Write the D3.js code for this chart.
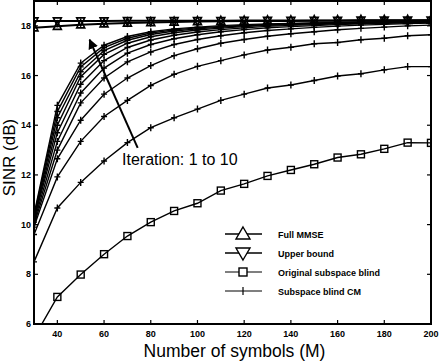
<!DOCTYPE html>
<html>
<head>
<meta charset="utf-8">
<script src="https://d3js.org/d3.v7.min.js"></script>
<style>
  body { margin: 0; background: #fff; }
  svg { display: block; font-family: Arial, "Liberation Sans", sans-serif; }
  .tick-label { font-size: 9px; font-weight: bold; }
</style>
</head>
<body>
<div id="chart"></div>
<script>
// Number of symbols M
const symbols = [30, 40, 50, 60, 70, 80, 90, 100, 110, 120, 130, 140, 150, 160, 170, 180, 190, 200];

// Reference curves
const fullMmse   = [17.92, 17.98, 18.04, 18.08, 18.11, 18.13, 18.15, 18.17, 18.18, 18.19, 18.2, 18.2, 18.21, 18.21, 18.22, 18.22, 18.22, 18.23];
const upperBound = [18.2, 18.2, 18.2, 18.2, 18.21, 18.21, 18.21, 18.21, 18.21, 18.22, 18.22, 18.22, 18.22, 18.22, 18.23, 18.23, 18.23, 18.23];
const originalSubspace = [5.45, 7.09, 7.99, 8.81, 9.54, 10.1, 10.55, 10.86, 11.37, 11.64, 11.96, 12.2, 12.43, 12.7, 12.83, 13.05, 13.3, 13.29];

// Subspace blind CM, iterations 1 to 10
const cmIter1  = [8.5, 10.67, 11.7, 12.56, 13.3, 13.9, 14.3, 14.65, 15.0, 15.25, 15.5, 15.62, 15.8, 15.98, 16.07, 16.23, 16.36, 16.36];
const cmIter2  = [9.6, 11.92, 13.35, 14.35, 15.0, 15.6, 16.05, 16.37, 16.6, 16.83, 17.03, 17.14, 17.28, 17.33, 17.44, 17.5, 17.6, 17.64];
const cmIter3  = [9.9, 12.65, 14.2, 15.25, 15.9, 16.4, 16.8, 17.08, 17.3, 17.45, 17.58, 17.68, 17.76, 17.84, 17.9, 17.95, 18.0, 18.03];
const cmIter4  = [10.0, 13.0, 14.9, 15.9, 16.55, 16.95, 17.25, 17.45, 17.6, 17.72, 17.81, 17.88, 17.94, 17.99, 18.03, 18.06, 18.09, 18.11];
const cmIter5  = [10.1, 13.35, 15.3, 16.3, 16.9, 17.25, 17.48, 17.64, 17.76, 17.85, 17.92, 17.97, 18.01, 18.05, 18.08, 18.1, 18.12, 18.14];
const cmIter6  = [10.2, 13.7, 15.65, 16.6, 17.13, 17.43, 17.62, 17.75, 17.85, 17.92, 17.98, 18.02, 18.05, 18.08, 18.1, 18.12, 18.14, 18.16];
const cmIter7  = [10.25, 14.0, 15.95, 16.85, 17.3, 17.56, 17.72, 17.83, 17.91, 17.97, 18.02, 18.05, 18.08, 18.1, 18.12, 18.14, 18.16, 18.17];
const cmIter8  = [10.3, 14.3, 16.15, 17.0, 17.42, 17.65, 17.79, 17.88, 17.95, 18.0, 18.04, 18.07, 18.1, 18.12, 18.14, 18.15, 18.17, 18.18];
const cmIter9  = [10.35, 14.55, 16.35, 17.12, 17.5, 17.71, 17.84, 17.92, 17.98, 18.02, 18.06, 18.09, 18.11, 18.13, 18.15, 18.16, 18.18, 18.19];
const cmIter10 = [10.4, 14.8, 16.5, 17.22, 17.57, 17.76, 17.88, 17.95, 18.01, 18.05, 18.08, 18.1, 18.12, 18.14, 18.16, 18.17, 18.19, 18.2];
const cmIterations = [cmIter1, cmIter2, cmIter3, cmIter4, cmIter5, cmIter6, cmIter7, cmIter8, cmIter9, cmIter10];

// Axis ticks
const xTicks = [40, 60, 80, 100, 120, 140, 160, 180, 200];
const yTicks = [6, 8, 10, 12, 14, 16, 18];

const legendLabels = ["Full MMSE", "Upper bound", "Original subspace blind", "Subspace blind CM"];

// Size of the page and the plot box
const width = 442, height = 362;
const margin = { top: 1, right: 10, bottom: 38, left: 34 };

const svg = d3.select("#chart").append("svg")
    .attr("width", width)
    .attr("height", height);

const x = d3.scaleLinear().domain([30, 200]).range([margin.left, width - 11]);
const y = d3.scaleLinear().domain([6, 19]).range([height - margin.bottom, margin.top]);

svg.append("clipPath").attr("id", "plot-clip")
    .append("rect")
    .attr("x", x(30)).attr("y", y(19))
    .attr("width", x(200) - x(30)).attr("height", y(6) - y(19));

const plot = svg.append("g").attr("clip-path", "url(#plot-clip)");

const line = d3.line()
    .x((d, i) => x(symbols[i]))
    .y(d => y(d));

// Marker shapes
function drawMarkers(g, values, kind) {
    const pts = values.map((v, i) => [x(symbols[i]), y(v)]);
    pts.forEach(([px, py]) => {
        if (kind === "up") {
            g.append("path")
                .attr("d", `M${px},${py - 5}L${px + 4},${py + 3}L${px - 4},${py + 3}Z`)
                .attr("fill", "none").attr("stroke", "#000").attr("stroke-width", 1.6);
        } else if (kind === "down") {
            g.append("path")
                .attr("d", `M${px},${py + 5}L${px + 4},${py - 3}L${px - 4},${py - 3}Z`)
                .attr("fill", "none").attr("stroke", "#000").attr("stroke-width", 1.6);
        } else if (kind === "square") {
            g.append("rect")
                .attr("x", px - 3.5).attr("y", py - 3.5)
                .attr("width", 7).attr("height", 7)
                .attr("fill", "none").attr("stroke", "#000").attr("stroke-width", 1.4);
        } else {
            g.append("path")
                .attr("d", `M${px - 3},${py}H${px + 3}M${px},${py - 3.5}V${py + 3.5}`)
                .attr("stroke", "#000").attr("stroke-width", 1.4);
        }
    });
}

// CM iterations
cmIterations.forEach(vals => {
    plot.append("path")
        .datum(vals)
        .attr("d", line)
        .attr("fill", "none")
        .attr("stroke", "#000")
        .attr("stroke-width", 1.4);
    drawMarkers(plot, vals, "plus");
});

// Original subspace blind
plot.append("path")
    .datum(originalSubspace)
    .attr("d", line)
    .attr("fill", "none")
    .attr("stroke", "#000")
    .attr("stroke-width", 1.4);
drawMarkers(plot, originalSubspace, "square");

// Full MMSE and upper bound
plot.append("path").datum(fullMmse).attr("d", line)
    .attr("fill", "none").attr("stroke", "#000").attr("stroke-width", 2);
drawMarkers(plot, fullMmse, "up");
plot.append("path").datum(upperBound).attr("d", line)
    .attr("fill", "none").attr("stroke", "#000").attr("stroke-width", 2);
drawMarkers(plot, upperBound, "down");

// Axes box with inward ticks
const axisG = svg.append("g");
axisG.append("rect")
    .attr("x", x(30)).attr("y", y(19))
    .attr("width", x(200) - x(30)).attr("height", y(6) - y(19))
    .attr("fill", "none").attr("stroke", "#000").attr("stroke-width", 2);

const tickLen = 4;
xTicks.forEach(t => {
    axisG.append("line")
        .attr("x1", x(t)).attr("x2", x(t))
        .attr("y1", y(6)).attr("y2", y(6) - tickLen)
        .attr("stroke", "#000").attr("stroke-width", 1.2);
    axisG.append("line")
        .attr("x1", x(t)).attr("x2", x(t))
        .attr("y1", y(19)).attr("y2", y(19) + tickLen)
        .attr("stroke", "#000").attr("stroke-width", 1.2);
    axisG.append("text")
        .attr("class", "tick-label")
        .attr("x", x(t)).attr("y", y(6) + 13)
        .attr("text-anchor", "middle")
        .text(t);
});
yTicks.forEach(t => {
    axisG.append("line")
        .attr("x1", x(30)).attr("x2", x(30) + tickLen)
        .attr("y1", y(t)).attr("y2", y(t))
        .attr("stroke", "#000").attr("stroke-width", 1.2);
    axisG.append("line")
        .attr("x1", x(200)).attr("x2", x(200) - tickLen)
        .attr("y1", y(t)).attr("y2", y(t))
        .attr("stroke", "#000").attr("stroke-width", 1.2);
    axisG.append("text")
        .attr("class", "tick-label")
        .attr("x", x(30) - 3).attr("y", y(t) + 3)
        .attr("text-anchor", "end")
        .text(t);
});

// Axis titles
svg.append("text")
    .attr("x", (x(30) + x(200)) / 2 + 2)
    .attr("y", height - 5)
    .attr("text-anchor", "middle")
    .style("font-size", "17.5px")
    .text("Number of symbols (M)");

svg.append("text")
    .attr("transform", `translate(15,${y(12.7)}) rotate(-90)`)
    .attr("text-anchor", "middle")
    .style("font-size", "17px")
    .text("SINR (dB)");

// Annotation arrow
const arrowFrom = [74.4, 13.09], arrowTo = [53.8, 17.44];
svg.append("defs").append("marker")
    .attr("id", "arrowhead")
    .attr("viewBox", "0 0 10 10")
    .attr("refX", 9).attr("refY", 5)
    .attr("markerWidth", 5).attr("markerHeight", 5)
    .attr("orient", "auto")
    .append("path").attr("d", "M0,0L10,5L0,10Z").attr("fill", "#000");
svg.append("line")
    .attr("x1", x(arrowFrom[0])).attr("y1", y(arrowFrom[1]))
    .attr("x2", x(arrowTo[0])).attr("y2", y(arrowTo[1]))
    .attr("stroke", "#000").attr("stroke-width", 2)
    .attr("marker-end", "url(#arrowhead)");
svg.append("text")
    .attr("x", x(67.7)).attr("y", y(12.4))
    .style("font-size", "16px")
    .text("Iteration: 1 to 10");

// Legend
const legend = svg.append("g").attr("transform", "translate(225,234)");
const legendKinds = ["up", "down", "square", "plus"];
legendLabels.forEach((lab, i) => {
    const ly = i * 19;
    legend.append("line")
        .attr("x1", 0).attr("x2", 37).attr("y1", ly).attr("y2", ly)
        .attr("stroke", "#000").attr("stroke-width", i < 2 ? 1.6 : 1.2);
    const mg = legend.append("g");
    const px = 18, py = ly;
    if (legendKinds[i] === "up") {
        mg.append("path").attr("d", `M${px},${py - 7}L${px + 7},${py + 5}L${px - 7},${py + 5}Z`)
            .attr("fill", "#fff").attr("stroke", "#000").attr("stroke-width", 1.4);
    } else if (legendKinds[i] === "down") {
        mg.append("path").attr("d", `M${px},${py + 7}L${px + 7},${py - 5}L${px - 7},${py - 5}Z`)
            .attr("fill", "#fff").attr("stroke", "#000").attr("stroke-width", 1.4);
    } else if (legendKinds[i] === "square") {
        mg.append("rect").attr("x", px - 4).attr("y", py - 4).attr("width", 8).attr("height", 8)
            .attr("fill", "#fff").attr("stroke", "#000").attr("stroke-width", 1.4);
    } else {
        mg.append("path").attr("d", `M${px},${py - 4}V${py + 4}`)
            .attr("stroke", "#000").attr("stroke-width", 1.2);
    }
    legend.append("text")
        .attr("x", 53).attr("y", ly + 3.5)
        .style("font-size", "9px")
        .style("font-weight", "bold")
        .text(lab);
});
</script>
</body>
</html>
